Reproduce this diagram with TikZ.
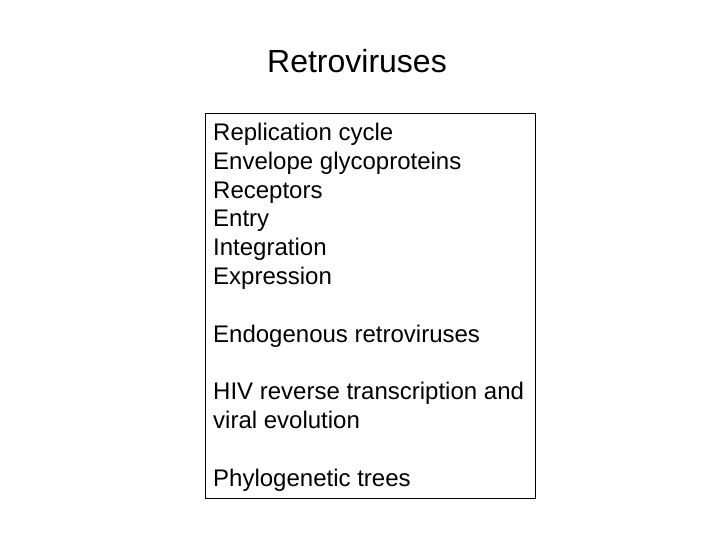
\documentclass[tikz,border=0pt]{standalone}
\usepackage{fontspec}
\setmainfont{Liberation Sans}
\begin{document}
\begin{tikzpicture}[x=1pt,y=-1pt]
    \useasboundingbox (0,0) rectangle (720,540);
    \draw[line width=0.8pt](205,113) rectangle (535,498);

    \node[anchor=base, inner sep=0pt, font=\fontsize{32}{38}\selectfont] (title) at (357,73) {Retroviruses};
    % base of a multi-line node is its last line
    \node[anchor=base west, inner sep=0pt, align=left, font=\fontsize{24}{28.8}\selectfont] (topics) at (213,486)
        {Replication cycle\\Envelope glycoproteins\\Receptors\\Entry\\Integration\\Expression\\[28.8pt]
         Endogenous retroviruses\\[28.8pt]
         HIV reverse transcription and\\viral evolution\\[28.8pt]
         Phylogenetic trees};
\end{tikzpicture}
\end{document}
